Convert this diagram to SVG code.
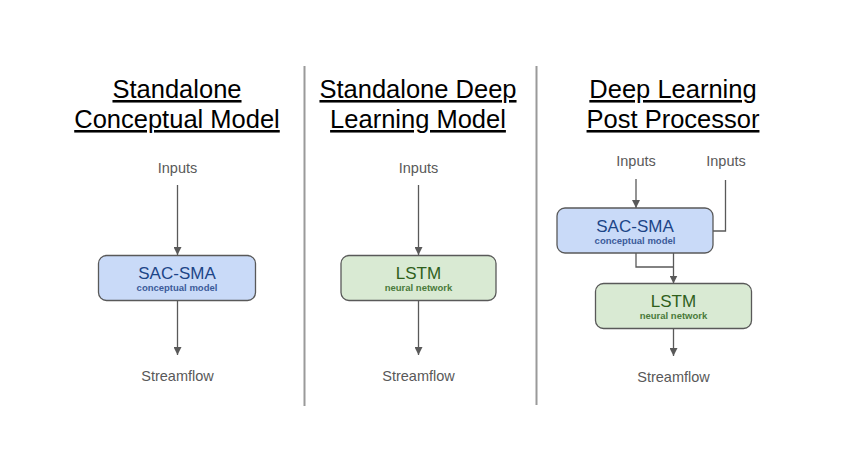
<svg xmlns="http://www.w3.org/2000/svg" width="864" height="466" viewBox="0 0 864 466">
<defs>
<marker id="ah" markerWidth="8" markerHeight="8" refX="8" refY="4" orient="auto" markerUnits="userSpaceOnUse">
<path d="M0,0 L8,4 L0,8 Z" fill="#595959"/>
</marker>
<style>
.title{font-family:"Liberation Sans",Arial,sans-serif;font-size:25.5px;fill:#000;text-anchor:middle;text-decoration:underline;}
.lbl{font-family:"Liberation Sans",Arial,sans-serif;font-size:14.5px;fill:#595959;text-anchor:middle;}
.blue{fill:#c9daf8;stroke:#595959;stroke-width:1.3;}
.green{fill:#d9ead3;stroke:#595959;stroke-width:1.3;}
.bt{font-family:"Liberation Sans",Arial,sans-serif;font-size:17px;fill:#1c4587;text-anchor:middle;}
.bs{font-family:"Liberation Sans",Arial,sans-serif;font-size:9.5px;font-weight:bold;fill:#3c5a9a;text-anchor:middle;}
.gt{font-family:"Liberation Sans",Arial,sans-serif;font-size:17px;fill:#2f5f1c;text-anchor:middle;}
.gs{font-family:"Liberation Sans",Arial,sans-serif;font-size:9.5px;font-weight:bold;fill:#4a7a3a;text-anchor:middle;}
.c{fill:none;stroke:#595959;stroke-width:1.3;}
.sep{stroke:#9a9a9a;stroke-width:2;}
</style>
</defs>
<rect width="864" height="466" fill="#fff"/>
<g id="separators">
<line class="sep" x1="304.5" y1="66" x2="304.5" y2="406"/>
<line class="sep" x1="536.5" y1="66" x2="536.5" y2="405"/>
</g>
<g id="titles">
<text class="title" x="177" y="98">Standalone</text>
<text class="title" x="177" y="128">Conceptual Model</text>
<text class="title" x="418" y="98">Standalone Deep</text>
<text class="title" x="418" y="128">Learning Model</text>
<text class="title" x="673" y="98">Deep Learning</text>
<text class="title" x="673" y="128">Post Processor</text>
</g>
<g id="connectors">
<line class="c" x1="177.5" y1="185" x2="177.5" y2="255" marker-end="url(#ah)"/>
<line class="c" x1="177.5" y1="301" x2="177.5" y2="355" marker-end="url(#ah)"/>
<line class="c" x1="418.5" y1="185" x2="418.5" y2="255" marker-end="url(#ah)"/>
<line class="c" x1="418.5" y1="301" x2="418.5" y2="355" marker-end="url(#ah)"/>
<line class="c" x1="636" y1="179" x2="636" y2="208" marker-end="url(#ah)"/>
<polyline class="c" points="725.5,180 725.5,231 713,231"/>
<polyline class="c" points="636,253 636,267 673.5,267"/>
<line class="c" x1="673.5" y1="253" x2="673.5" y2="283.5" marker-end="url(#ah)"/>
<line class="c" x1="673.5" y1="328" x2="673.5" y2="356" marker-end="url(#ah)"/>
</g>
<g id="inputs1"><text class="lbl" x="177.5" y="173">Inputs</text></g>
<g id="sacsma1">
<rect class="blue" x="98.5" y="255.5" width="157" height="45" rx="8"/>
<text class="bt" x="177" y="279">SAC-SMA</text>
<text class="bs" x="177" y="291">conceptual model</text>
</g>
<g id="streamflow1"><text class="lbl" x="177.5" y="381">Streamflow</text></g>
<g id="inputs2"><text class="lbl" x="418.5" y="173">Inputs</text></g>
<g id="lstm2">
<rect class="green" x="341" y="255.5" width="155" height="45" rx="8"/>
<text class="gt" x="418.5" y="279">LSTM</text>
<text class="gs" x="418.5" y="291">neural network</text>
</g>
<g id="streamflow2"><text class="lbl" x="418.5" y="381">Streamflow</text></g>
<g id="inputs3a"><text class="lbl" x="636" y="166">Inputs</text></g>
<g id="inputs3b"><text class="lbl" x="726" y="166">Inputs</text></g>
<g id="sacsma3">
<rect class="blue" x="557" y="208" width="156" height="45" rx="8"/>
<text class="bt" x="635" y="232">SAC-SMA</text>
<text class="bs" x="635" y="244">conceptual model</text>
</g>
<g id="lstm3">
<rect class="green" x="595.5" y="283.5" width="156" height="45" rx="8"/>
<text class="gt" x="673.5" y="307">LSTM</text>
<text class="gs" x="673.5" y="319">neural network</text>
</g>
<g id="streamflow3"><text class="lbl" x="673.5" y="382">Streamflow</text></g>
</svg>
